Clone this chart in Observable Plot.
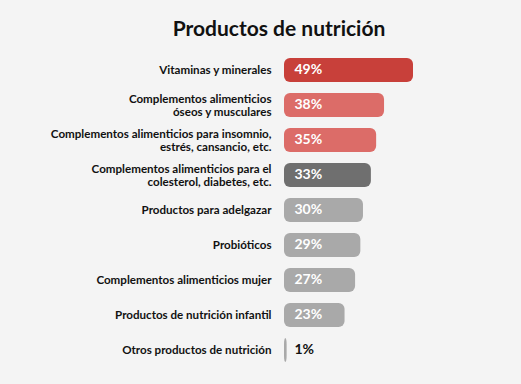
<!DOCTYPE html>
<html><head><meta charset="utf-8">
<script src="https://cdn.jsdelivr.net/npm/d3@7"></script>
<script src="https://cdn.jsdelivr.net/npm/@observablehq/plot@0.6"></script>
<style>
body{margin:0;background:#f4f4f4;width:521px;height:384px;overflow:hidden;font-family:Lato,sans-serif;position:relative}
#title{position:absolute;left:0;width:558px;top:15px;text-align:center;font-size:21px;line-height:25px;font-weight:700;color:#111}
#chart{position:absolute;top:46px;left:0}
</style></head><body>
<div id="title">Productos de nutrición</div>
<div id="chart"></div>
<script>
const categories = [
  "Vitaminas y minerales",
  "Complementos alimenticios\nóseos y musculares",
  "Complementos alimenticios para insomnio,\nestrés, cansancio, etc.",
  "Complementos alimenticios para el\ncolesterol, diabetes, etc.",
  "Productos para adelgazar",
  "Probióticos",
  "Complementos alimenticios mujer",
  "Productos de nutrición infantil",
  "Otros productos de nutrición"
];
const values = [49, 38, 35, 33, 30, 29, 27, 23, 1];
const barColors = ["#c8403a", "#dc6c68", "#dc6c68", "#6f6f6f", "#a9a9a9", "#a9a9a9", "#a9a9a9", "#a9a9a9", "#a9a9a9"];
const labelColors = ["#fff", "#fff", "#fff", "#fff", "#fff", "#fff", "#fff", "#fff", "#111"];

const data = categories.map((c, i) => ({category: c, value: values[i], color: barColors[i], lc: labelColors[i]}));

const chart = Plot.plot({
  width: 521,
  height: 338,
  marginLeft: 284,
  marginRight: 108,
  marginTop: 0,
  marginBottom: 9.5,
  style: {background: "transparent", fontFamily: "Lato, sans-serif", color: "#111"},
  x: {domain: [0, 49], axis: null},
  y: {domain: categories, padding: 0.32, label: null},
  color: {type: "identity"},
  marks: [
    Plot.barX(data, {x: "value", y: "category", fill: "color", rx: 6}),
    Plot.axisY({tickSize: 0, tickPadding: 13, fontSize: 11.6, fontWeight: 700, lineHeight: 1.05, label: null}),
    Plot.text(data, {x: 0, y: "category", text: d => d.value + "%", dx: 10, dy: -1, textAnchor: "start", fill: "lc", fontSize: 14, fontWeight: 700})
  ]
});
document.getElementById("chart").appendChild(chart);
</script>
</body></html>
